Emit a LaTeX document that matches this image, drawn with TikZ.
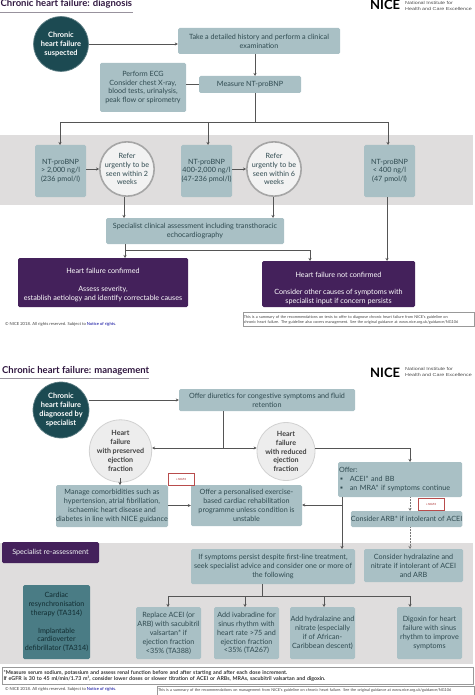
\documentclass[tikz,border=0pt]{standalone}
\usepackage{fontspec}
\setmainfont{Lato}
\newfontfamily\logofont[FakeStretch=1.25]{Liberation Sans}
\usetikzlibrary{arrows.meta, positioning, calc}
\definecolor{NiceBox}{HTML}{A9C0C5}
\definecolor{NiceTeal}{HTML}{1C4A52}
\definecolor{NicePurple}{HTML}{44215B}
\definecolor{NiceBand}{HTML}{DFDDDD}
\definecolor{NiceText}{HTML}{2F4A50}
\definecolor{NiceLine}{HTML}{555555}
\definecolor{NiceDevice}{HTML}{4A7C85}
\begin{document}
\begin{tikzpicture}[x=1pt, y=-1pt, >={Stealth[length=3pt,width=3pt]},
    box/.style={fill=NiceBox, rounded corners=1.5pt, text=NiceText, align=center, inner sep=0pt,
                font=\fontsize{7.2}{8.9}\selectfont},
    startcirc/.style={circle, fill=NiceTeal, draw=NiceTeal!70, line width=0.7pt, text=white, align=center,
                inner sep=0pt, font=\fontsize{7.4}{8.9}\bfseries\selectfont},
    refercirc/.style={circle, fill=black!5, draw=black!35, line width=1.6pt, text=NiceText, align=center,
                inner sep=0pt, font=\fontsize{7.2}{8.9}\selectfont},
    hfcirc/.style={circle, fill=black!7, draw=black!18, line width=0.8pt, text=black!75, align=center,
                inner sep=0pt, font=\fontsize{7.1}{8.9}\bfseries\selectfont},
    outcome/.style={fill=NicePurple, rounded corners=1.5pt, text=white, align=center, inner sep=0pt,
                font=\fontsize{7.2}{8.9}\selectfont},
    flow/.style={->, NiceLine, line width=0.8pt},
    plain/.style={NiceLine, line width=0.8pt},
    maybe/.style={->, NiceLine!80, line width=0.5pt, densely dotted},
    heading/.style={anchor=base west, text=NicePurple!70!black, inner sep=0pt, font=\fontsize{9.5}{10}\bfseries\selectfont},
    rulerline/.style={draw=NicePurple!40!black!45, line width=0.8pt},
    badge/.style={draw=red!60!black!70, fill=white, line width=0.5pt, text=red!60!black, inner sep=0pt,
                font=\fontsize{2.8}{3}\selectfont},
    tiny/.style={anchor=base west, inner sep=0pt, text=black!75, font=\fontsize{4.15}{4.9}\selectfont},
    logo/.style={anchor=base west, inner sep=0pt, font=\fontsize{13}{13}\bfseries\selectfont},
    logotext/.style={anchor=west, inner sep=0pt, align=left, text=black!70, font=\logofont\fontsize{4.3}{6.4}\selectfont}]
  \useasboundingbox (0,0) rectangle (474,695);
  % bands
  \fill[NiceBand] (0,135) rectangle (473,205);
  \fill[NiceBand] (0,543) rectangle (473,664);

  % diagnosis
  \node[heading] (title1) at (0.5,7) {Chronic heart failure: diagnosis};
  \draw[rulerline] (0,12) -- (133,12);
  \node[logo] (nice1) at (370,10) {NICE};
  \node[logotext] (org1) at (405,6) {National Institute for\\Health and Care Excellence};

  \node[startcirc, minimum size=55pt] (susp) at (61,44) {Chronic\\heart failure\\suspected};
  \node[box, minimum width=162pt, minimum height=26pt] (hist) at (259,41) {Take a detailed history and perform a clinical\\examination};
  \node[box, minimum width=102pt, minimum height=17pt] (bnp) at (250,84.5) {Measure NT-proBNP};
  \node[box, minimum width=86pt, minimum height=49pt] (ecg) at (143,87.5) {Perform ECG\\Consider chest X-ray,\\blood tests, urinalysis,\\peak flow or spirometry};
  \coordinate (fork) at (255,122);
  \node[box, minimum width=51pt, minimum height=52pt] (high) at (60.5,171) {NT-proBNP\\> 2,000 ng/l\\(236 pmol/l)};
  \node[box, minimum width=51pt, minimum height=52pt] (mid) at (206.5,171) {NT-proBNP\\400-2,000 ng/l\\(47-236 pmol/l)};
  \node[box, minimum width=51pt, minimum height=52pt] (low) at (389.5,171) {NT-proBNP\\< 400 ng/l\\(47 pmol/l)};
  \node[refercirc, minimum size=54pt] (ref2w) at (127,169) {Refer\\urgently to be\\seen within 2\\weeks};
  \node[refercirc, minimum size=54pt] (ref6w) at (274,169) {Refer\\urgently to be\\seen within 6\\weeks};
  \node[box, minimum width=178pt, minimum height=26pt] (spec) at (195,231) {Specialist clinical assessment including transthoracic\\echocardiography};
  \node[outcome, minimum width=170pt, minimum height=49pt] (yes) at (103,282.5) {\rule{0pt}{10pt}Heart failure confirmed\\[8.9pt]Assess severity,\\establish aetiology and identify correctable causes};
  \node[outcome, minimum width=153pt, minimum height=46pt] (no) at (338.5,284) {\rule{0pt}{14pt}Heart failure not confirmed\\[8.9pt]Consider other causes of symptoms with\\specialist input if concern persists};

  \draw[flow] (susp) -- (hist.west |- susp);
  \draw[flow] (255,54) -- (255,76);
  \draw[plain] (ecg.east |- bnp) -- (bnp);
  \draw[plain] (255,93) -- (fork);
  \draw[flow] (fork) -| (60,145);
  \draw[flow] (fork) -| (208,145);
  \draw[flow] (fork) -| (388,145);
  \draw[flow] (high.east |- ref2w) -- (ref2w);
  \draw[flow] (mid.east |- ref6w) -- (ref6w);
  \draw[flow] (124,197) -- (124,218);
  \draw[flow] (273,197) -- (273,218);
  \draw[flow] (125,244) -- (125,258);
  \draw[flow] (125,250.5) -| (310,261);
  \draw[flow] (387,197) -- (387,261);

  \node[draw=black!40, line width=0.3pt, fill=white, minimum width=231pt, minimum height=14pt, inner sep=0.8pt,
        font=\fontsize{3.85}{4.9}\selectfont, text=black!75, align=left, text width=229.5pt] (sum1) at (358.5,319.5)
    {This is a summary of the recommendations on tests to offer to diagnose chronic heart failure from NICE's guideline on\\chronic heart failure. The guideline also covers management. See the original guidance at www.nice.org.uk/guidance/NG106};
  \node[tiny] (copy1) at (5,325) {© NICE 2018. All rights reserved. Subject to \textcolor{blue!60!black}{Notice of rights}.};

  % management
  \node[heading] (title2) at (2,373) {Chronic heart failure: management};
  \draw[rulerline] (0,378) -- (149,378);
  \node[logo] (nice2) at (370,377) {NICE};
  \node[logotext] (org2) at (405,372) {National Institute for\\Health and Care Excellence};

  \node[startcirc, minimum size=56pt] (diag) at (61,410) {Chronic\\heart failure\\diagnosed by\\specialist};
  \node[box, minimum width=176pt, minimum height=22pt] (diur) at (267,400) {Offer diuretics for congestive symptoms and fluid\\retention};
  \node[hfcirc, minimum size=53pt] (pres) at (120.5,451) {Heart\\failure\\with preserved\\ejection\\fraction};
  \node[hfcirc, minimum size=54pt] (red) at (286,451.5) {Heart\\failure\\with reduced\\ejection\\fraction};
  \node[box, minimum width=124pt, minimum height=35pt, align=left, text width=122pt] (offer) at (400,479.5)
    {Offer:\\[0pt]\hspace{1pt}▪\hspace{7pt}ACEI* and BB\\\hspace{1pt}▪\hspace{7pt}an MRA* if symptoms continue};
  \node[box, minimum width=112pt, minimum height=42pt] (como) at (112,506) {Manage comorbidities such as\\hypertension, atrial fibrillation,\\ischaemic heart disease and\\diabetes in line with NICE guidance};
  \node[box, minimum width=111pt, minimum height=41pt] (rehab) at (246.5,505.5) {Offer a personalised exercise-\\based cardiac rehabilitation\\programme unless condition is\\unstable};
  \node[box, minimum width=111pt, minimum height=16pt] (arb) at (406.5,519) {Consider ARB* if intolerant of ACEI};
  \node[badge, minimum width=26pt, minimum height=12pt] (badge1) at (181,479) {+ NG73};
  \node[badge, minimum width=26pt, minimum height=12pt] (badge2) at (431,504) {+ NG73};
  \node[outcome, minimum width=97pt, minimum height=21pt, text=white!85!NiceBox] (reas) at (50.5,552.5) {Specialist re-assessment};
  \node[box, minimum width=164pt, minimum height=35pt] (persist) at (273,566.5) {If symptoms persist despite first-line treatment,\\seek specialist advice and consider one or more of\\the following};
  \node[box, minimum width=99pt, minimum height=33pt] (hydr) at (413.5,565.5) {Consider hydralazine and\\nitrate if intolerant of ACEI\\and ARB};
  \node[fill=NiceDevice, rounded corners=1.5pt, text=NiceTeal!60!black, align=center, inner sep=0pt, minimum width=67pt, minimum height=74pt,
        font=\fontsize{7.2}{8.9}\selectfont] (device) at (56.5,622) {Cardiac\\resynchronisation\\therapy (TA314)\\[8.9pt]Implantable\\cardioverter\\defibrillator (TA314)};
  \coordinate (fork2) at (262,596);
  \node[box, minimum width=65pt, minimum height=52pt] (sacu) at (168.5,633) {Replace ACEI (or\\ARB) with sacubitril\\valsartan* if\\ejection fraction\\<35\% (TA388)};
  \node[box, minimum width=65pt, minimum height=52pt] (ivab) at (246.5,633) {Add ivabradine for\\sinus rhythm with\\heart rate >75 and\\ejection fraction\\<35\% (TA267)};
  \node[box, minimum width=65pt, minimum height=52pt] (nitr) at (322.5,633) {Add hydralazine and\\nitrate (especially\\if of African-\\Caribbean descent)};
  \node[box, minimum width=65pt, minimum height=52pt] (digo) at (429.5,633) {Digoxin for heart\\failure with sinus\\rhythm to improve\\symptoms};

  \draw[flow] (diag.east |- diur) -- (diur.west);
  \draw[plain] (223,411) -- (223,448);
  \draw[flow] (223,448) -- (pres.east |- 223,448);
  \draw[flow] (223,448) -- (red.west |- 223,448);
  \draw[flow] (red.east |- 0,448) -| (410,462);
  \draw[flow] (120,478) -- (120,485);
  \draw[flow] (como.east |- rehab) -- (rehab);
  \draw[flow] (342,505) -- (rehab.east |- 342,505);
  \draw[flow] (342,497) -- (342,549);
  \draw[maybe] (410,497) -- (410,511);
  \draw[maybe] (410,527) -- (410,549);
  \draw[plain] (262,584) -- (fork2);
  \draw[flow] (fork2) -| (168,607);
  \draw[flow] (fork2) -| (245,607);
  \draw[flow] (fork2) -| (324,607);
  \draw[flow] (fork2) -| (410,607);

  \node[draw=black!40, line width=0.3pt, fill=white, minimum width=471pt, minimum height=17pt, inner sep=1pt,
        font=\fontsize{5.3}{6}\bfseries\selectfont, text=black!80, align=left, text width=468pt] (foot) at (237.5,675.5)
    {*Measure serum sodium, potassium and assess renal function before and after starting and after each dose increment.\\If eGFR is 30 to 45 ml/min/1.73 m², consider lower doses or slower titration of ACEI or ARBs, MRAs, sacubitril valsartan and digoxin.};
  \node[tiny] (copy2) at (5,690.5) {© NICE 2018. All rights reserved. Subject to \textcolor{blue!60!black}{Notice of rights}.};
  \node[draw=black!40, line width=0.3pt, fill=white, minimum width=317pt, minimum height=9pt, inner sep=0.8pt,
        font=\fontsize{3.85}{4.9}\selectfont, text=black!75, align=left, text width=315pt] (sum2) at (315.5,690.5)
    {This is a summary of the recommendations on management from NICE's guideline on chronic heart failure. See the original guidance at www.nice.org.uk/guidance/NG106};
\end{tikzpicture}
\end{document}
